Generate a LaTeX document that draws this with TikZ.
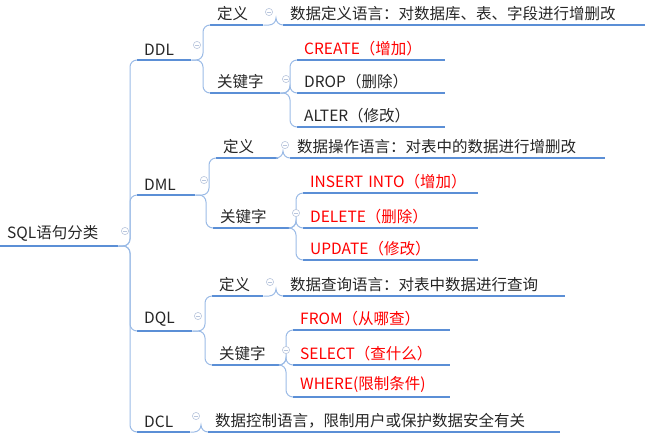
\documentclass[tikz,border=0pt]{standalone}
\usepackage{fontspec}
\setmainfont{Noto Sans CJK SC}
\usepackage{xcolor}
\usetikzlibrary{calc}
\definecolor{ulblue}{HTML}{5B8FD6}
\definecolor{cnblue}{HTML}{9BBBE6}
\definecolor{foldc}{HTML}{B9C6DD}
\definecolor{txt}{HTML}{262626}

\newcommand\topic[5][txt]{%
  \node[topic, text=#1, minimum width=#4pt, text width=#4pt-14pt] (#2) at (#3) {#5};
  \draw[uline] (#2.south west) -- (#2.south east);}
\newcommand\fold[1]{%
  \draw[foldc, line width=0.6pt, fill=white] (#1) circle (3.6pt);
  \draw[foldc, line width=0.6pt] ($(#1)+(-2pt,0)$) -- ($(#1)+(2pt,0)$);}
\newcommand\conn[2]{%
  \draw[conn] (#1.south east) -| ($(#2.south west)+(-7pt,0)$) -- (#2.south west);}

\begin{document}
\begin{tikzpicture}[x=1pt, y=-1pt,
  topic/.style={anchor=south west, inner xsep=7pt, inner ysep=4pt, align=left,
    font=\fontsize{15.5}{17}\selectfont},
  uline/.style={ulblue, line width=2pt},
  conn/.style={cnblue, line width=1pt, rounded corners=7pt}]
 \useasboundingbox (0,0) rectangle (663,440);

 % root and first level
 \topic{root}{0,246}{118}{SQL语句分类}
 \topic{ddl}{137,60}{54}{DDL}
 \topic{dml}{137,195}{58}{DML}
 \topic{dql}{137,331}{55}{DQL}
 \topic{dcl}{137,432}{53}{DCL}

 % DDL
 \topic{ddldef}{210,25}{53}{定义}
 \topic{ddldefv}{283,25}{362}{数据定义语言：对数据库、表、字段进行增删改}
 \topic{ddlkey}{210,93}{70}{关键字}
 \topic[red]{ddlk1}{297,60}{148}{CREATE（增加）}
 \topic{ddlk2}{297,93}{148}{DROP（删除）}
 \topic{ddlk3}{297,127}{148}{ALTER（修改）}

 % DML
 \topic{dmldef}{216,158}{62}{定义}
 \topic{dmldefv}{290,158}{315}{数据操作语言：对表中的数据进行增删改}
 \topic{dmlkey}{213,228}{77}{关键字}
 \topic[red]{dmlk1}{303,193}{175}{INSERT INTO（增加）}
 \topic[red]{dmlk2}{303,228}{175}{DELETE（删除）}
 \topic[red]{dmlk3}{303,260}{175}{UPDATE（修改）}

 % DQL
 \topic{dqldef}{212,296}{51}{定义}
 \topic{dqldefv}{283,296}{282}{数据查询语言：对表中数据进行查询}
 \topic{dqlkey}{212,365}{68}{关键字}
 \topic[red]{dqlk1}{293,330}{157}{FROM（从哪查）}
 \topic[red]{dqlk2}{293,365}{157}{SELECT（查什么）}
 \topic[red]{dqlk3}{293,397}{157}{WHERE(限制条件)}

 % DCL
 \topic{dclv}{208,432}{352}{数据控制语言，限制用户或保护数据安全有关}

 \foreach \a/\b in {root/ddl, root/dml, root/dql, root/dcl,
   ddl/ddldef, ddl/ddlkey, ddldef/ddldefv, ddlkey/ddlk1, ddlkey/ddlk2, ddlkey/ddlk3,
   dml/dmldef, dml/dmlkey, dmldef/dmldefv, dmlkey/dmlk1, dmlkey/dmlk2, dmlkey/dmlk3,
   dql/dqldef, dql/dqlkey, dqldef/dqldefv, dqlkey/dqlk1, dqlkey/dqlk2, dqlkey/dqlk3,
   dcl/dclv}
   \conn{\a}{\b};

 \foreach \p in {{125,231}, {197,45}, {269,12}, {286,79}, {204,180}, {285,145},
   {296,213}, {198,316}, {270,282}, {286,350}, {196,416}}
   \fold{\p};
\end{tikzpicture}
\end{document}
